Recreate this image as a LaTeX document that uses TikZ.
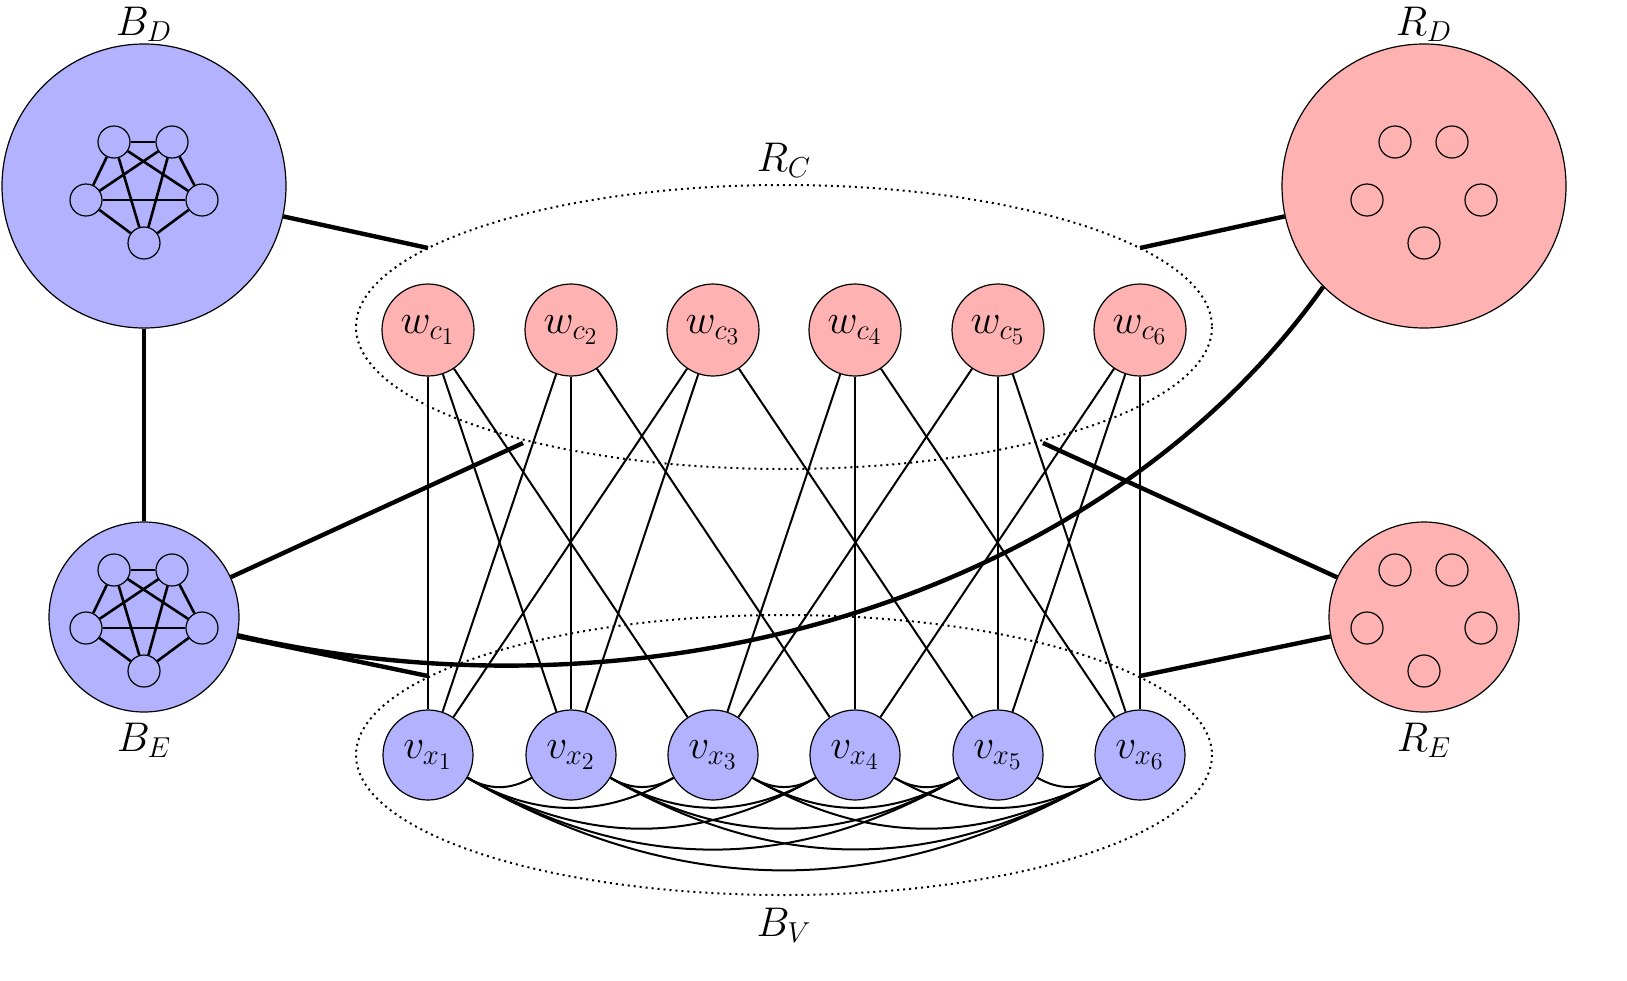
\documentclass[tikz,border=0pt]{standalone}
\begin{document}
\begin{tikzpicture}[x=0.5pt,y=-0.5pt,
  bl/.style={circle,draw,line width=0.6pt,fill=blue!30,inner sep=0pt},
  rd/.style={circle,draw,line width=0.6pt,fill=red!30,inner sep=0pt},
  small/.style={circle,draw,line width=0.6pt,minimum size=16pt,inner sep=0pt},
  thick2/.style={line width=2.2pt},
  thin1/.style={line width=1pt},
  lab/.style={font=\huge}]
\useasboundingbox (0,0) rectangle (1627,980);
% ellipses
\draw[dotted,line width=1pt] (784,327) ellipse [x radius=428,y radius=142];
\draw[dotted,line width=1pt] (784,755) ellipse [x radius=428,y radius=140];
\node[lab] (lRC) at (784,160) {$R_C$};
\node[lab] (lBV) at (784,925) {$B_V$};
\coordinate (rc1) at (428,248);
\coordinate (rc2) at (523,443);
\coordinate (rc3) at (1140,248);
\coordinate (rc4) at (1043,443);
\coordinate (bv1) at (428,676);
\coordinate (bv2) at (1140,676);
% big nodes
\node[bl,minimum size=142pt] (BD) at (144,186) {};
\node[bl,minimum size=95pt] (BE) at (144,617) {};
\node[rd,minimum size=142pt] (RD) at (1424,186) {};
\node[rd,minimum size=95pt] (RE) at (1424,617) {};
\node[lab] (lBD) at (144,24) {$B_D$};
\node[lab] (lBE) at (144,740) {$B_E$};
\node[lab] (lRD) at (1424,24) {$R_D$};
\node[lab] (lRE) at (1424,740) {$R_E$};
% small K5s
\foreach \n/\dy in {d/0,e/428}{
  \node[small] (\n1) at (114,142+\dy) {};
  \node[small] (\n2) at (172,142+\dy) {};
  \node[small] (\n3) at (202,200+\dy) {};
  \node[small] (\n4) at (144,243+\dy) {};
  \node[small] (\n5) at (86,200+\dy) {};
  \foreach \a/\b in {1/2,1/3,1/4,1/5,2/3,2/4,2/5,3/4,3/5,4/5}
    \draw[line width=1.3pt] (\n\a) -- (\n\b);
}
\foreach \n/\dy in {r/0,s/428}{
  \node[small] (\n1) at (1395,142+\dy) {};
  \node[small] (\n2) at (1452,142+\dy) {};
  \node[small] (\n3) at (1481,200+\dy) {};
  \node[small] (\n4) at (1424,243+\dy) {};
  \node[small] (\n5) at (1367,200+\dy) {};
}
% w and v nodes
\foreach \i/\x in {1/428,2/571,3/713,4/855,5/998,6/1140}{
  \node[rd,minimum size=46pt,font=\huge] (w\i) at (\x,330) {$w_{c_{\i}}$};
  \node[bl,minimum size=45pt,font=\huge] (v\i) at (\x,755) {$v_{x_{\i}}$};
}
% clause edges
\foreach \a/\b in {1/1,1/2,1/3,2/1,2/2,2/4,3/1,3/2,3/5,4/3,4/4,4/6,5/3,5/5,5/6,6/4,6/5,6/6}
  \draw[thin1] (w\a) -- (v\b);
% K6 on v
\foreach \a/\b in {1/2,1/3,1/4,1/5,1/6,2/3,2/4,2/5,2/6,3/4,3/5,3/6,4/5,4/6,5/6}
  \draw[thin1] (v\a) to[bend right=30] (v\b);
% thick connectors
\draw[thick2] (BD) -- (BE);
\draw[thick2] (BD) -- (rc1);
\draw[thick2] (BE) -- (rc2);
\draw[thick2] (BE) -- (bv1);
\draw[thick2] (RD) -- (rc3);
\draw[thick2] (RE) -- (rc4);
\draw[thick2] (RE) -- (bv2);
\draw[thick2] (BE.-11) .. controls (650,730) and (1100,600) .. (RD.-135);
\end{tikzpicture}
\end{document}
